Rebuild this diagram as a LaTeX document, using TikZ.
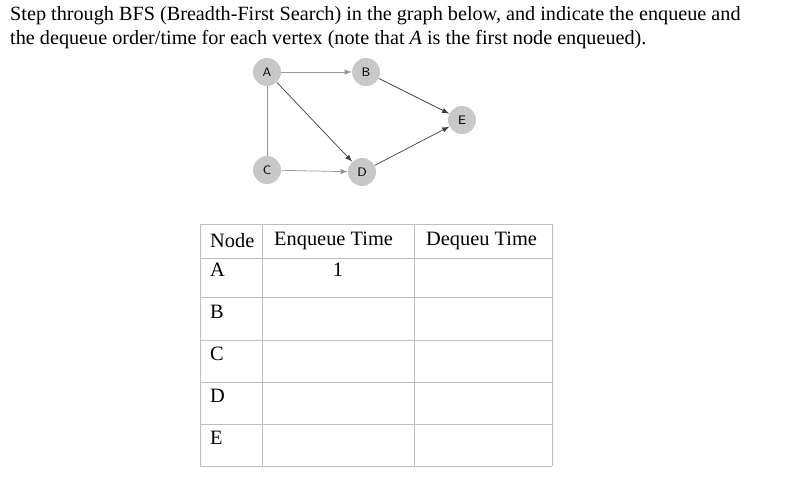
\documentclass[tikz,border=0pt]{standalone}
\usepackage{fontspec}
\setmainfont{Liberation Serif}
\usetikzlibrary{positioning}
\usetikzlibrary{arrows}
\definecolor{vgray}{RGB}{200,200,200}
\definecolor{egray}{RGB}{150,150,150}
\definecolor{tgray}{RGB}{190,190,190}

\begin{document}
\begin{tikzpicture}[x=0.02cm, y=-0.02cm, >=latex,
vert/.style={circle,fill=vgray,minimum size=0.56cm,inner sep=0pt,font=\sffamily\scriptsize},
lite/.style={egray,thin},
dark/.style={black!75,thin},
cell/.style={anchor=west,font=\fontsize{11.6}{13}\selectfont}]
\useasboundingbox (0,0) rectangle (794,488);

% question
\node [anchor=west,font=\fontsize{11.5}{13}\selectfont] (q1) at (4,16) {Step through BFS (Breadth-First Search) in the graph below, and indicate the enqueue and};
\node [anchor=west,font=\fontsize{11.5}{13}\selectfont] (q2) at (4,40) {the dequeue order/time for each vertex (note that \textit{A} is the first node enqueued).};

%%%%%%%%%%%%%%%%%%%%%%%% vertices
\node [vert] (a) at (267,72) {A};
\node [vert] (b) at (366,72) {B};
\node [vert] (e) at (462,120) {E};
\node [vert] (c) at (267,170) {C};
\node [vert] (d) at (362,172) {D};

% edges
\draw [lite,->] (a) -- (b);
\draw [lite] (a) -- (c);
\draw [lite,->] (c) -- (d);
\draw [dark,->] (a) -- (d);
\draw [dark,->] (b) -- (e);
\draw [dark,->] (d) -- (e);

% table
\foreach \y in {224,258,297,340,382,424,466}
  \draw [tgray] (200,\y) -- (552,\y);
\foreach \x in {200,262,414,552}
  \draw [tgray] (\x,224) -- (\x,466);

\node [cell] (hn) at (204,241) {Node};
\node [cell] (he) at (268,241) {Enqueue Time};
\node [cell] (hd) at (420,241) {Dequeu Time};
\foreach \n/\y in {A/270,B/312,C/354,D/396,E/438}
  \node [cell] (r\n) at (204,\y) {\n};
\node [cell,anchor=center] (one) at (338,270) {1};
\end{tikzpicture}
\end{document}
